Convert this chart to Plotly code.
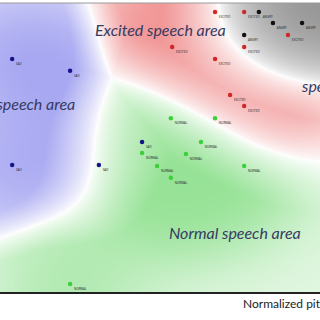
import numpy as np
import plotly.graph_objects as go

# ---- data (normalized pitch on x, second feature on y) ----
blue_x = [0.038, 0.219, 0.444, 0.038, 0.309]
blue_y = [0.807, 0.766, 0.521, 0.441, 0.441]
green_x = [0.534, 0.672, 0.444, 0.491, 0.534, 0.581, 0.628, 0.763, 0.219]
green_y = [0.603, 0.603, 0.483, 0.438, 0.397, 0.479, 0.521, 0.438, 0.031]
red_x = [0.672, 0.763, 0.538, 0.672, 0.763, 0.900, 0.719, 0.763]
red_y = [0.969, 0.969, 0.848, 0.807, 0.848, 0.890, 0.683, 0.645]
gray_x = [0.809, 0.853, 0.944, 0.763]
gray_y = [0.969, 0.931, 0.931, 0.890]

class_names = ["SAD", "NORMAL", "EXCITED", "ANGRY"]
area_labels = ["Sad speech area", "Normal speech area", "Excited speech area", "speech area"]

# ---- styles ----
marker_colors = ["#14148c", "#3ccf3c", "#d02828", "#111111"]
field_colors = [(110, 110, 234), (105, 214, 105), (236, 105, 105), (80, 80, 80)]
sigmas = [42.0, 50.0, 48.0, 40.0]
weights = [1.0, 0.9, 1.7, 4.0]
TEMP = 1.3

classes = [(blue_x, blue_y), (green_x, green_y), (red_x, red_y), (gray_x, gray_y)]

# ---- background field derived from the points ----
W, H = 320, 290
gx = (np.arange(W) + 0.5) / W
gy = (np.arange(H) + 0.5) / H
X, Y = np.meshgrid(gx, gy)
logs = []
for (xs, ys), s, w in zip(classes, sigmas, weights):
    xs = np.asarray(xs); ys = np.asarray(ys)
    d2 = ((X[..., None] - xs) * W) ** 2 + ((Y[..., None] - ys) * H) ** 2
    e = -d2 / (2 * s * s)
    m = e.max(axis=-1)
    logs.append(m + np.log(np.exp(e - m[..., None]).sum(axis=-1)) + np.log(w))
L = np.stack(logs, axis=-1)
Ls = L / TEMP
P = np.exp(Ls - Ls.max(axis=-1, keepdims=True))
P = P / P.sum(axis=-1, keepdims=True)
top = P.argmax(axis=-1)
ps = np.sort(P, axis=-1)
margin = np.clip((ps[..., -1] - ps[..., -2]) / 0.5, 0, 1) ** 0.7
Dt = np.exp(np.take_along_axis(L, top[..., None], axis=-1)[..., 0])
strength = 0.2 + 0.5 * (1 - np.exp(-Dt / 1.0))
a = margin * strength
cols = np.array(field_colors, dtype=float)[top]
img = 255 + a[..., None] * (cols - 255)
img = np.clip(img, 0, 255).astype(np.uint8)

fig = go.Figure()
fig.add_trace(go.Image(z=img.tolist(), x0=gx[0], dx=1.0 / W, y0=gy[0], dy=1.0 / H,
                       hoverinfo="skip"))

for (xs, ys), name, col in zip(classes, class_names, marker_colors):
    fig.add_trace(go.Scatter(
        x=xs, y=ys, mode="markers+text",
        marker=dict(size=4.5, color=col),
        text=[name] * len(xs), textposition="bottom right",
        textfont=dict(size=3, color="#222222"),
        showlegend=False, hoverinfo="skip"))

label_font = dict(family="Lato", size=16, color="#363b62")
fig.add_annotation(x=0.241, y=0.652, text="<i>" + area_labels[0] + "</i>", xanchor="right",
                   showarrow=False, font=label_font)
fig.add_annotation(x=0.733, y=0.210, text="<i>" + area_labels[1] + "</i>", xanchor="center",
                   showarrow=False, font=label_font)
fig.add_annotation(x=0.503, y=0.910, text="<i>" + area_labels[2] + "</i>", xanchor="center",
                   showarrow=False, font=label_font)
fig.add_annotation(x=0.935, y=0.714, text="<i>" + area_labels[3] + "</i>", xanchor="left",
                   showarrow=False, font=label_font)
fig.add_annotation(x=0.753, xref="paper", y=-0.0345, yref="paper", text="Normalized pitch",
                   xanchor="left", yanchor="middle", showarrow=False,
                   font=dict(family="Lato", size=12, color="#222222"))

fig.add_shape(type="line", xref="paper", yref="paper", x0=0, x1=1, y0=1, y1=1,
              line=dict(color="#9a9a9a", width=1))
fig.add_shape(type="line", xref="paper", yref="paper", x0=0, x1=1, y0=0, y1=0,
              line=dict(color="#222222", width=2))

fig.update_layout(
    width=320, height=320,
    margin=dict(l=0, r=0, t=3, b=27),
    paper_bgcolor="white", plot_bgcolor="white",
    xaxis=dict(range=[0, 1], visible=False, fixedrange=True, constrain="range"),
    yaxis=dict(range=[0, 1], visible=False, fixedrange=True, autorange=False,
               scaleanchor=False),
    showlegend=False,
)
fig.write_html("out.html")
